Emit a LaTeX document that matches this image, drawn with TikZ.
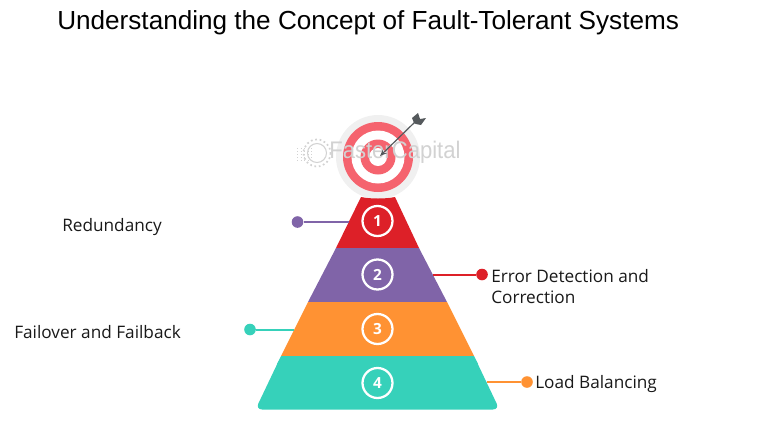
\documentclass[tikz,border=0pt]{standalone}
\usepackage{fontspec}
\setmainfont{Open Sans}
\newfontfamily\titlefont{Liberation Sans}
\newfontfamily\markfont[FakeStretch=0.92]{Liberation Sans}
\usetikzlibrary{arrows.meta}
\definecolor{pyrred}{HTML}{DD2028}
\definecolor{pyrpurple}{HTML}{8064A8}
\definecolor{pyrorange}{HTML}{FF9233}
\definecolor{pyrteal}{HTML}{36D1BA}
\definecolor{ringred}{HTML}{F5636E}
\definecolor{ringpale}{HTML}{F0F0F0}
\definecolor{markgray}{HTML}{D2D2D2}
\definecolor{arrowgray}{HTML}{55595C}
\tikzset{
  numring/.style={circle, draw=white, line width=1.7pt, minimum size=22.5pt, inner sep=0pt, text=white, font=\fontsize{11.5}{13}\selectfont\bfseries},
  enddot/.style={circle, inner sep=0pt, minimum size=8.7pt},
  lbl/.style={inner sep=0pt, align=left, font=\fontsize{12.9}{15.8}\selectfont, text=black!90}
}
\begin{document}
\begin{tikzpicture}[x=0.75pt,y=-0.75pt]
\useasboundingbox (0,0) rectangle (768,437);
\node (title) [anchor=west, inner sep=0pt, font=\titlefont\fontsize{19.6}{23}\selectfont] at (57,22.5) {Understanding the Concept of Fault-Tolerant Systems};

% target
\fill[ringpale] (378,157) circle (42);
\fill[ringred] (378,157) circle (35);
\fill[white] (378,157) circle (26.5);
\fill[ringred] (378,157) circle (17.5);
\fill[white] (378,157) circle (9);

% watermark
\draw[markgray, line width=0.8pt] (317,153) circle (9.5);
\draw[markgray, line width=1.3pt, dotted] (317,153) circle (13.5);
\foreach \i in {148,151,154,157,160} {\draw[markgray, line width=0.7pt, dotted] (297,\i) -- (312,\i);}
\node (mark) [anchor=west, inner sep=0pt, text=markgray, font=\markfont\fontsize{18}{20}\selectfont] at (329,152.5) {FasterCapital};

% arrow
\coordinate (tip) at (380,156);
\coordinate (tail) at (416,121);
\draw[arrowgray, line width=0.9pt, -{Stealth[length=5pt,width=4pt]}] (tail) -- (tip);
\fill[arrowgray] (414,123) -- (412,118) -- (418,113) -- (420,119) -- (426,118) -- (421,125) -- (416,124) -- cycle;

% pyramid
\fill[pyrred] (361,197) .. controls (370,199) and (386,199) .. (395,197) -- (419,248) -- (336,248) -- cycle;
\fill[pyrpurple] (336,248) -- (419,248) -- (447,302) -- (308,302) -- cycle;
\fill[pyrorange] (308,302) -- (447,302) -- (474,356) -- (281,356) -- cycle;
\fill[pyrteal, rounded corners=5pt] (281,356) -- (474,356) -- (499.5,409.5) -- (255.5,409.5) -- cycle;
\fill[pyrteal] (281,356) -- (474,356) -- (478,364) -- (277,364) -- cycle;

\node (one) [numring] at (377.5,221) {1};
\node (two) [numring] at (377.5,274.5) {2};
\node (three) [numring] at (377.5,329) {3};
\node (four) [numring] at (377.5,383) {4};

% connectors
\coordinate (edgeone) at (349,222);
\coordinate (edgetwo) at (433,274.5);
\coordinate (edgethree) at (294,329.5);
\coordinate (edgefour) at (487,382);
\node (dotone) [enddot, fill=pyrpurple] at (297.5,222) {};
\node (dottwo) [enddot, fill=pyrred] at (482,274.5) {};
\node (dotthree) [enddot, fill=pyrteal] at (250,329.5) {};
\node (dotfour) [enddot, fill=pyrorange] at (527,382) {};
\draw[pyrpurple, line width=1.5pt] (dotone) -- (edgeone);
\draw[pyrred, line width=1.5pt] (edgetwo) -- (dottwo);
\draw[pyrteal, line width=1.5pt] (dotthree) -- (edgethree);
\draw[pyrorange, line width=1.5pt] (edgefour) -- (dotfour);

% labels
\node (redundancy) [lbl, anchor=west] at (62,227) {Redundancy};
\node (error) [lbl, anchor=north west] at (491,269.5) {Error Detection and\\Correction};
\node (failover) [lbl, anchor=west] at (14,332.5) {Failover and Failback};
\node (balancing) [lbl, anchor=west] at (535,384) {Load Balancing};
\end{tikzpicture}
\end{document}
